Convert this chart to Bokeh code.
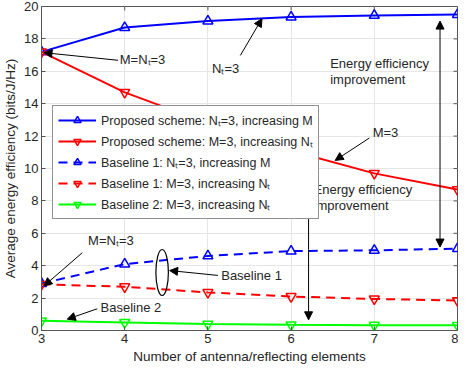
from bokeh.plotting import figure
from bokeh.models import (Legend, LegendItem, Arrow, NormalHead, Label, Range1d,
                          FixedTicker)
from bokeh.embed import file_html
from bokeh.resources import INLINE

# ---- data ----
n_elements = [3, 4, 5, 6, 7, 8]
proposed_nt3 = [17.2, 18.7, 19.1, 19.35, 19.45, 19.5]
proposed_m3 = [17.2, 14.7, 12.8, 11.1, 9.7, 8.7]
baseline1_nt3 = [2.9, 4.1, 4.6, 4.9, 4.95, 5.05]
baseline1_m3 = [2.85, 2.7, 2.35, 2.1, 1.95, 1.85]
baseline2_m3 = [0.6, 0.5, 0.4, 0.35, 0.33, 0.32]
x_ticks = [3, 4, 5, 6, 7, 8]
y_ticks = [0, 2, 4, 6, 8, 10, 12, 14, 16, 18, 20]

FONT = "Liberation Sans"
BLUE = "#0000ff"
RED = "#ff0000"
GREEN = "#00ff00"

p = figure(width=458, height=366, output_backend="svg", toolbar_location=None,
           x_range=Range1d(3, 8), y_range=Range1d(0, 20),
           min_border_left=32, min_border_right=1, min_border_top=6, min_border_bottom=34)

p.xaxis.ticker = FixedTicker(ticks=x_ticks)
p.yaxis.ticker = FixedTicker(ticks=y_ticks)
for ax in (p.xaxis, p.yaxis):
    ax.major_tick_in = 4
    ax.major_tick_out = 0
    ax.minor_tick_in = 0
    ax.minor_tick_out = 0
    ax.axis_line_color = "#555555"
    ax.major_tick_line_color = "#555555"
    ax.major_label_text_font = FONT
    ax.major_label_text_font_size = "13px"
    ax.major_label_text_color = "#262626"
    ax.axis_label_text_font = FONT
    ax.axis_label_text_font_size = "13.5px"
    ax.axis_label_text_font_style = "normal"
    ax.axis_label_text_color = "#262626"
    ax.axis_label_standoff = 3
    ax.major_label_standoff = 3
p.xaxis.axis_label = "Number of antenna/reflecting elements"
p.yaxis.axis_label = "Average energy efficiency (bits/J/Hz)"
p.grid.grid_line_color = "#e6e6e6"
p.outline_line_color = "#555555"
p.outline_line_width = 1

# ticks on right and top (MATLAB box)
p.segment(x0=[8] * len(y_ticks), y0=y_ticks, x1=[8 - 4 / 85] * len(y_ticks), y1=y_ticks,
          line_color="#555555")
p.segment(x0=x_ticks, y0=[20] * len(x_ticks), x1=x_ticks, y1=[20 - 4 / 16.3] * len(x_ticks),
          line_color="#555555")

def series(y, color, marker, dash):
    l = p.line(n_elements, y, line_color=color, line_width=2, line_dash=dash)
    s = p.scatter(n_elements, y, marker=marker, size=10, line_color=color, line_width=1.5,
                  fill_alpha=0)
    return [l, s]

r1 = series(proposed_nt3, BLUE, "triangle", "solid")
r2 = series(proposed_m3, RED, "inverted_triangle", "solid")
r3 = series(baseline1_nt3, BLUE, "triangle", "9 6")
r4 = series(baseline1_m3, RED, "inverted_triangle", "9 6")
r5 = series(baseline2_m3, GREEN, "inverted_triangle", "solid")

legend = Legend(items=[
    LegendItem(label="Proposed scheme: N\u209c=3, increasing M", renderers=r1),
    LegendItem(label="Proposed scheme: M=3, increasing N\u209c", renderers=r2),
    LegendItem(label="Baseline 1: N\u209c=3, increasing M", renderers=r3),
    LegendItem(label="Baseline 1: M=3, increasing N\u209c", renderers=r4),
    LegendItem(label="Baseline 2: M=3, increasing N\u209c", renderers=r5),
], location=(11, 111))
legend.label_text_font = FONT
legend.label_text_font_size = "12.5px"
legend.label_text_color = "#262626"
legend.glyph_width = 38
legend.glyph_height = 18
legend.label_height = 18
legend.spacing = 3
legend.padding = 5
legend.margin = 0
legend.label_standoff = 5
legend.border_line_color = "#262626"
legend.border_line_width = 1
legend.background_fill_alpha = 1
p.add_layout(legend, "center")

def arrow(x0, y0, x1, y1):
    head = NormalHead(size=8, fill_color="black", line_color="black")
    p.add_layout(Arrow(x_start=x0, y_start=y0, x_end=x1, y_end=y1, line_color="black",
                       line_width=1, end=head, start=None))

def label(x, y, t):
    p.add_layout(Label(x=x, y=y, text=t, text_font=FONT, text_font_size="13px",
                       text_color="#262626", text_baseline="middle", text_align="left"))

# annotations
arrow(3.92, 16.68, 3.03, 17.15)
label(3.94, 16.74, "M=N\u209c=3")
arrow(5.39, 16.98, 5.65, 19.25)
label(5.05, 16.2, "N\u209c=3")
label(6.47, 16.5, "Energy  efficiency")
label(6.47, 15.5, "improvement")
arrow(7.79, 12.0, 7.79, 19.1)
arrow(7.79, 12.0, 7.79, 5.15)
label(6.98, 12.2, "M=3")
arrow(6.94, 11.88, 6.53, 10.5)
arrow(6.21, 5.0, 6.21, 10.6)
arrow(6.21, 5.0, 6.21, 0.66)
label(6.27, 8.7, "Energy efficiency")
label(6.27, 7.7, "improvement")
label(3.56, 5.58, "M=N\u209c=3")
arrow(3.49, 4.8, 3.03, 2.75)
p.ellipse(x=[4.45], y=[3.58], width=[0.15], height=[2.84], fill_alpha=0,
          line_color="black", line_width=1.2)
arrow(5.12, 3.4, 4.54, 3.7)
label(5.16, 3.4, "Baseline 1")
arrow(3.67, 1.34, 3.31, 0.7)
label(3.71, 1.4, "Baseline 2")

open("out.html", "w").write(file_html(p, INLINE))
